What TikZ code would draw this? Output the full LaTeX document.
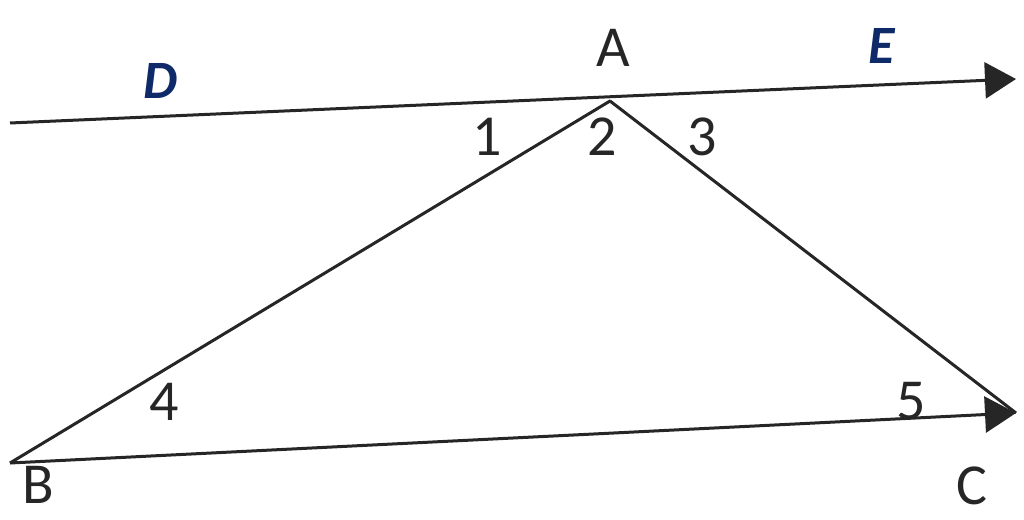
\documentclass[tikz,border=0pt]{standalone}
\usepackage{fontspec}
\setmainfont{Carlito}
\usetikzlibrary{arrows.meta}
\definecolor{navy}{HTML}{0F2A68}
\tikzset{
  seg/.style={line width=3pt, draw=black!85},
  arr/.style={seg, -{Triangle[length=31pt,width=36pt]}},
  lbl/.style={font=\fontsize{58}{60}\selectfont, text=black!85, inner sep=0pt},
  linename/.style={font=\fontsize{54}{56}\selectfont\bfseries\itshape, text=navy, inner sep=0pt}
}
\begin{document}
\begin{tikzpicture}[x=1pt,y=-1pt]
\useasboundingbox (0,0) rectangle (1024,519);
\coordinate (L) at (10,123);
\coordinate (R) at (1016,79);
\coordinate (A) at (610,101);
\coordinate (B) at (10,463);
\coordinate (C) at (1016,413);
\draw[arr] (L) -- (R);
\draw[arr] (B) -- (C);
\draw[seg, line join=round] (B) -- (A) -- (C);
\node[lbl] (lA) at (613,48) {A};
\node[lbl] (lB) at (38,485) {B};
\node[lbl] (lC) at (972,486) {C};
\node[lbl] (n1) at (487,137) {1};
\node[lbl] (n2) at (602,137) {2};
\node[lbl] (n3) at (702,137) {3};
\node[lbl] (n4) at (164,402) {4};
\node[lbl] (n5) at (911,401) {5};
\node[linename] (lD) at (161,81) {D};
\node[linename] (lE) at (882,46) {E};
\end{tikzpicture}
\end{document}
